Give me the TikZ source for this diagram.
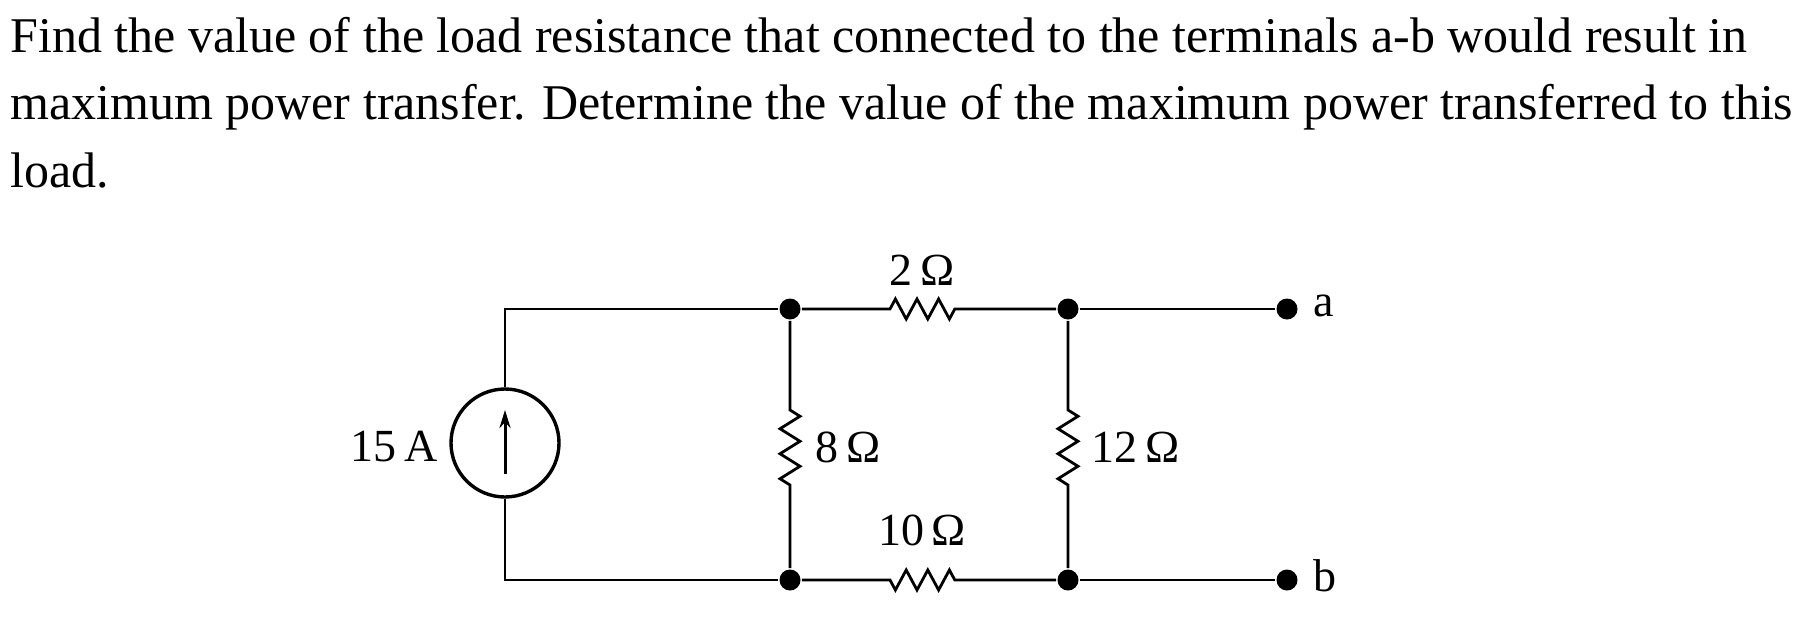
\documentclass[tikz,border=0pt]{standalone}
\usepackage{fontspec}
\setmainfont{Liberation Serif}
\usetikzlibrary{arrows.meta}
\begin{document}
\begin{tikzpicture}[x=1pt,y=-1pt,line width=2.8pt,
  dot/.style={circle,fill=black,inner sep=0pt,minimum size=21pt},
  lbl/.style={font=\fontsize{46}{46}\selectfont,inner sep=0pt},
  txt/.style={font=\fontsize{50}{50}\selectfont,inner sep=0pt,anchor=base west}]
\useasboundingbox (0,0) rectangle (1813,619);
\node[txt] (t1) at (9,52) {Find the value of the load resistance that connected to the terminals a-b would result in};
\node[txt] (t2) at (9,119) {maximum power transfer. Determine the value of the maximum power transferred to this};
\node[txt] (t3) at (9,187) {load.};
\coordinate (tl) at (505,309);
\coordinate (bl) at (505,580);
\node[dot] (n1) at (790,309) {};
\node[dot] (n2) at (1068,309) {};
\node[dot] (n3) at (790,580) {};
\node[dot] (n4) at (1068,580) {};
\node[dot] (a) at (1287,309) {};
\node[dot] (b) at (1287,580) {};
\node[draw,circle,minimum size=108pt,inner sep=0pt,line width=3.4pt] (src) at (505,443) {};
\draw[line width=3pt,-{Stealth[length=18pt,width=11pt]}] (505,474) -- (505,410);
\draw (src.north) -- (tl) -- (n1);
\draw (src.south) -- (bl) -- (n3);
\draw (n1) -- (890,309) -- ++(5.4,-10) -- ++(10.8,20) -- ++(10.8,-20) -- ++(10.8,20) -- ++(10.8,-20) -- ++(10.8,20) -- ++(5.4,-10) -- (n2);
\draw (n3) -- (890,580) -- ++(5.4,10) -- ++(10.8,-20) -- ++(10.8,20) -- ++(10.8,-20) -- ++(10.8,20) -- ++(10.8,-20) -- ++(5.4,10) -- (n4);
\draw (n1) -- (790,410) -- ++(10,6.25) -- ++(-20,12.5) -- ++(20,12.5) -- ++(-20,12.5) -- ++(20,12.5) -- ++(-20,12.5) -- ++(10,6.25) -- (n3);
\draw (n2) -- (1068,410) -- ++(10,6.25) -- ++(-20,12.5) -- ++(20,12.5) -- ++(-20,12.5) -- ++(20,12.5) -- ++(-20,12.5) -- ++(10,6.25) -- (n4);
\draw (n2) -- (a);
\draw (n4) -- (b);
\node[lbl] (l2) at (922,270) {2\,Ω};
\node[lbl] (l10) at (922,530) {10\,Ω};
\node[lbl,anchor=west] (l8) at (814,447) {8\,Ω};
\node[lbl,anchor=west] (l12) at (1090,447) {12\,Ω};
\node[lbl,anchor=east] (l15) at (439,447) {15\,A};
\node[lbl,anchor=west] (la) at (1312,306) {a};
\node[lbl,anchor=west] (lb) at (1312,576) {b};
\end{tikzpicture}
\end{document}
